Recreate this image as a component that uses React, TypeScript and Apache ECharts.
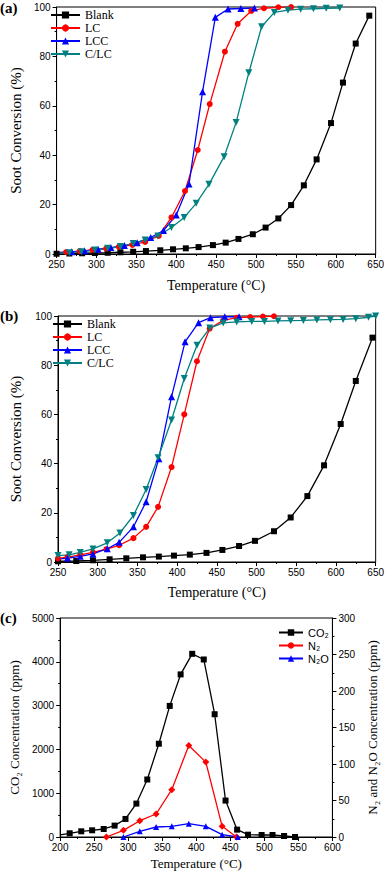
import { useEffect, useRef } from "react";
import * as echarts from "echarts";

// Panel (a)
const aBlankT = [250, 266, 282, 298, 314, 330, 346, 362, 380, 396, 412, 428, 446, 462, 478, 496, 512, 528, 544, 560, 576, 594, 609, 625, 642];
const aBlankV = [0.1, 0.2, 0.3, 0.4, 0.5, 0.7, 0.9, 1.2, 1.5, 1.9, 2.3, 2.8, 3.6, 4.6, 6.1, 8.0, 10.7, 14.4, 19.8, 27.8, 38.3, 53, 69.4, 85.2, 96.5];
const aLcT = [250, 262, 279, 295, 312, 328, 345, 361, 378, 394, 411, 427, 442, 461, 477, 494, 510, 528, 544];
const aLcV = [0.5, 0.8, 1.2, 1.7, 2.2, 2.9, 3.7, 4.9, 7.3, 14.8, 25.5, 42.1, 60.7, 81.9, 93.2, 98.4, 99.5, 99.9, 100];
const aLccT = [250, 269, 285, 302, 318, 335, 351, 368, 384, 400, 416, 433, 449, 465, 481, 498];
const aLccV = [0.5, 0.9, 1.3, 1.9, 2.6, 3.4, 4.6, 6.7, 9.5, 15.8, 28.3, 65.7, 95.8, 99.2, 99.4, 99.6];
const aClcT = [250, 266, 281, 298, 314, 330, 346, 361, 377, 394, 410, 425, 441, 460, 475, 491, 507, 523, 540, 556, 572, 588, 605];
const aClcV = [0.3, 0.5, 0.9, 1.6, 2.3, 3.0, 4.3, 5.7, 7.3, 10.7, 14.8, 20.5, 28.2, 39.4, 53.2, 73.4, 92, 97.8, 98.7, 99.1, 99.3, 99.5, 99.6];

// Panel (b)
const bBlankT = [250, 273, 294, 315, 336, 357, 377, 396, 416, 437, 457, 478, 498, 522, 543, 564, 585, 606, 625, 646];
const bBlankV = [0.3, 0.4, 0.7, 1.1, 1.5, 1.9, 2.2, 2.6, 3.0, 3.7, 4.9, 6.5, 8.6, 12.5, 18.1, 26.8, 39.3, 56.1, 73.6, 91.2];
const bLcT = [250, 262, 278, 294, 311, 327, 345, 361, 376, 393, 409, 425, 441, 458, 475, 492, 508, 522];
const bLcV = [1.5, 2.0, 2.9, 3.9, 5.2, 6.8, 9.7, 14.3, 22.4, 38.6, 60, 81.6, 94.9, 98.2, 99.3, 99.6, 99.8, 99.9];
const bLccT = [250, 262, 278, 294, 312, 327, 345, 361, 377, 393, 410, 427, 442, 460, 478];
const bLccV = [1.2, 1.6, 2.3, 3.3, 5.4, 8.0, 14.3, 24.5, 42, 67.2, 89.5, 97.3, 99.3, 99.7, 99.7];
const bClcT = [250, 264, 278, 294, 312, 328, 345, 361, 376, 393, 409, 425, 441, 458, 475, 494, 510, 527, 543, 559, 576, 593, 609, 625, 641, 650];
const bClcV = [2.6, 2.9, 3.9, 5.3, 7.8, 11.8, 18.9, 29.5, 42.4, 57.7, 74.6, 88.1, 95.1, 97.2, 97.6, 97.8, 97.8, 98.0, 98.1, 98.2, 98.4, 98.5, 98.6, 98.9, 99.5, 100];

// Panel (c)
const cT = [200, 214, 231, 247, 264, 280, 296, 312, 328, 345, 361, 377, 394, 411, 427, 443, 460, 476, 496, 512, 529, 545];
const co2V = [50, 85, 130, 153, 183, 260, 412, 763, 1313, 2130, 2993, 3712, 4182, 4053, 2803, 832, 168, 53, 46, 46, 23, 0];
const n2T = [268, 293, 317, 341, 364, 389, 414, 438, 459];
const n2V = [0, 9.1, 22.3, 31.5, 64.8, 125.4, 102.6, 14.6, 0];
const n2oT = [293, 317, 341, 364, 389, 414, 438, 461];
const n2oV = [0, 7.8, 13.7, 14.6, 18.2, 14.6, 3.2, 0];

const SERIF = "'Liberation Serif', 'Times New Roman', serif";
const SANS = "'Liberation Sans', Arial, sans-serif";

const zip = (xs: number[], ys: number[], edgeX?: number, pointSymbol?: string) =>
  xs.map((x, i) => {
    const item: any = { value: [x, ys[i]] };
    if (edgeX !== undefined && x === edgeX) item.symbol = "none";
    else if (pointSymbol) item.symbol = pointSymbol;
    return item;
  });

function lineSeries(name: string, data: any[], color: string, symbol: string, size: number, xi: number, yi: number, rotate = 0) {
  return {
    type: "line",
    name,
    data,
    xAxisIndex: xi,
    yAxisIndex: yi,
    symbol,
    symbolSize: size,
    symbolRotate: rotate,
    showAllSymbol: true,
    color,
    lineStyle: { color, width: 1.3 },
    itemStyle: { color },
    z: 3,
  };
}

function xAxisCfg(grid: number, min: number, max: number, gap: number, nameSize: number) {
  return {
    type: "value",
    gridIndex: grid,
    min,
    max,
    interval: 50,
    name: "Temperature (°C)",
    nameLocation: "middle",
    nameGap: gap,
    nameTextStyle: { fontFamily: SERIF, fontSize: nameSize, color: "#000" },
    axisLine: { show: true, lineStyle: { color: "#000", width: 1 } },
    axisTick: { show: true, length: 4, lineStyle: { color: "#000" } },
    minorTick: { show: true, splitNumber: 2, length: 2, lineStyle: { color: "#000" } },
    splitLine: { show: false },
    axisLabel: { fontFamily: SANS, fontSize: 10, color: "#000", margin: 5, showMaxLabel: true, showMinLabel: true },
  };
}

function yAxisCfg(grid: number, min: number, max: number, interval: number, name: string, gap: number, nameSize: number, position = "left") {
  return {
    type: "value",
    gridIndex: grid,
    position,
    min,
    max,
    interval,
    name,
    nameLocation: "middle",
    nameGap: gap,
    nameRotate: 90,
    nameTextStyle: { fontFamily: SERIF, fontSize: nameSize, color: "#000" },
    axisLine: { show: true, lineStyle: { color: "#000", width: 1 } },
    axisTick: { show: true, length: 4, lineStyle: { color: "#000" } },
    minorTick: { show: true, splitNumber: 2, length: 2, lineStyle: { color: "#000" } },
    splitLine: { show: false },
    axisLabel: { fontFamily: SANS, fontSize: 10, color: "#000", margin: 6, formatter: (v: number) => String(v) },
  };
}

export default function App() {
  const ref = useRef<HTMLDivElement>(null);
  useEffect(() => {
    if (!ref.current) return;
    const chart = echarts.init(ref.current, undefined, { renderer: "svg" });
    const gridStyle = { show: true, borderColor: "#000", borderWidth: 1, backgroundColor: "transparent", containLabel: false };
    const legendText = { fontFamily: SERIF, fontSize: 12, color: "#000" };
    const option: any = {
      animation: false,
      backgroundColor: "#fff",
      grid: [
        { ...gridStyle, left: 45, top: 7, width: 333, height: 247 },
        { ...gridStyle, left: 47, top: 316, width: 331, height: 246 },
        { ...gridStyle, left: 52, top: 618, width: 294, height: 219 },
      ],
      xAxis: [xAxisCfg(0, 250, 650, 24, 14), xAxisCfg(1, 250, 650, 23, 14), xAxisCfg(2, 200, 600, 20, 13)],
      yAxis: [
        yAxisCfg(0, 0, 100, 20, "Soot Conversion (%)", 33, 15),
        yAxisCfg(1, 0, 100, 20, "Soot Conversion (%)", 35, 15),
        yAxisCfg(2, 0, 5000, 1000, "CO₂ Concentration (ppm)", 32, 13),
        yAxisCfg(2, 0, 300, 50, "N₂ and N₂O Concentration (ppm)", 30, 13, "right"),
      ],
      legend: [
        {
          data: ["Blank", "LC", "LCC", "C/LC"].map((n) => ({ name: n })),
          orient: "vertical",
          left: 45,
          top: 4,
          itemWidth: 29,
          itemHeight: 9,
          itemGap: 1,
          textStyle: legendText,
          selectedMode: false,
        },
        {
          data: ["Blank ", "LC ", "LCC ", "C/LC "].map((n) => ({ name: n })),
          orient: "vertical",
          left: 47,
          top: 313,
          itemWidth: 29,
          itemHeight: 9,
          itemGap: 1,
          textStyle: legendText,
          selectedMode: false,
          formatter: (n: string) => n.trim(),
        },
        {
          data: [{ name: "CO₂" }, { name: "N₂" }, { name: "N₂O" }],
          orient: "vertical",
          left: 273,
          top: 622,
          itemWidth: 24,
          itemHeight: 8,
          itemGap: 2,
          textStyle: { fontFamily: SANS, fontSize: 11, color: "#000" },
          selectedMode: false,
        },
      ],
      graphic: [
        { type: "text", left: 0, top: 0, style: { text: "(a)", font: `bold 15px ${SERIF}`, fill: "#000" } },
        { type: "text", left: 0, top: 308, style: { text: "(b)", font: `bold 15px ${SERIF}`, fill: "#000" } },
        { type: "text", left: 0, top: 610, style: { text: "(c)", font: `bold 15px ${SERIF}`, fill: "#000" } },
      ],
      series: [
        lineSeries("Blank", zip(aBlankT, aBlankV), "#000000", "rect", 6, 0, 0),
        lineSeries("LC", zip(aLcT, aLcV, 250), "#ff0000", "circle", 6, 0, 0),
        lineSeries("LCC", zip(aLccT, aLccV, 250), "#0000ff", "triangle", 7, 0, 0),
        lineSeries("C/LC", zip(aClcT, aClcV, 250), "#008080", "triangle", 7, 0, 0, 180),
        lineSeries("Blank ", zip(bBlankT, bBlankV), "#000000", "rect", 6, 1, 1),
        lineSeries("LC ", zip(bLcT, bLcV), "#ff0000", "circle", 6, 1, 1),
        lineSeries("LCC ", zip(bLccT, bLccV, 250), "#0000ff", "triangle", 7, 1, 1),
        lineSeries("C/LC ", zip(bClcT, bClcV), "#008080", "triangle", 7, 1, 1, 180),
        lineSeries("CO₂", zip(cT, co2V, 200), "#000000", "rect", 6, 2, 2),
        lineSeries("N₂", zip(n2T, n2V, undefined, "diamond"), "#ff0000", "circle", 7, 2, 3),
        lineSeries("N₂O", zip(n2oT, n2oV), "#0000ff", "triangle", 6, 2, 3),
      ],
    };
    chart.setOption(option);
    return () => chart.dispose();
  }, []);
  return (
    <div
      ref={ref}
      style={{ position: "fixed", left: 0, top: 0, width: 387, height: 871, background: "#fff" }}
    />
  );
}
